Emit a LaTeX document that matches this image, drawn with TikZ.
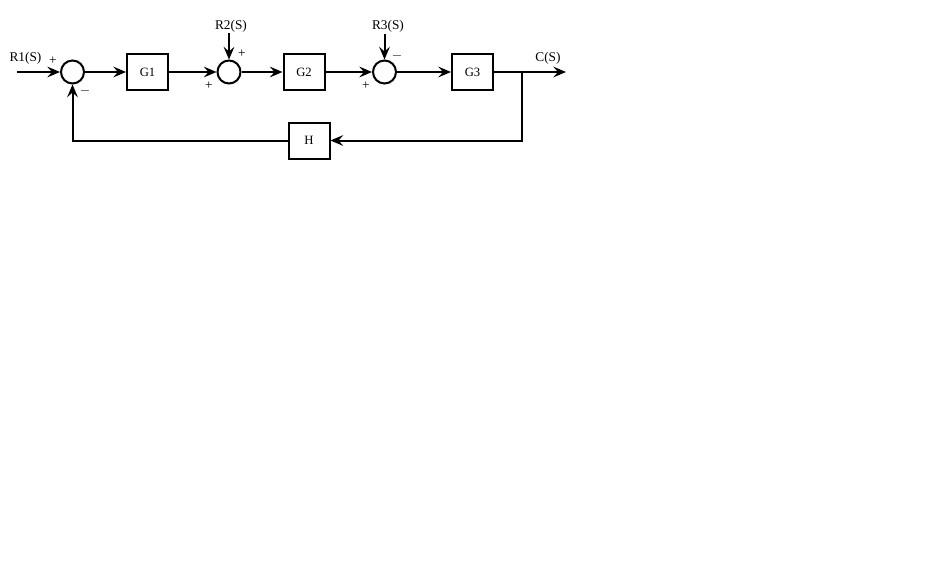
\documentclass[tikz,border=0pt]{standalone}
\usepackage{fontspec}
\setmainfont{Liberation Serif}
\usetikzlibrary{arrows.meta}
\begin{document}
\begin{tikzpicture}[x=0.75pt,y=-0.75pt,
  line width=1.5pt,
  arr/.style={-{Stealth[length=9.5pt,width=8pt,inset=3.5pt]}},
  blk/.style={draw,minimum width=41*0.75pt,minimum height=36*0.75pt,inner sep=0pt,font=\fontsize{9.5}{10}\selectfont},
  sumc/.style={draw,circle,minimum size=23*0.75pt,inner sep=0pt},
  lbl/.style={inner sep=0pt,font=\fontsize{10}{10}\selectfont},
  sgn/.style={inner sep=0pt,font=\fontsize{10}{10}\selectfont}]
\useasboundingbox (0,0) rectangle (934,571);
\coordinate (in) at (17,72);
\node[sumc] (s1) at (72.5,72) {};
\node[blk] (g1) at (147.5,72) {G1};
\node[sumc] (s2) at (229,72) {};
\node[blk] (g2) at (304,72) {G2};
\node[sumc] (s3) at (384.5,72) {};
\node[blk] (g3) at (472.5,72) {G3};
\node[blk] (h) at (309,140.5) {H};
\coordinate (br) at (522,72);
\coordinate (out) at (566,72);
\coordinate (fbr) at (522,140.5);
\coordinate (fbl) at (72.5,140.5);
\coordinate (r2) at (229,33);
\coordinate (r3) at (384.5,34);
\draw[arr] (in) -- (s1);
\draw[arr] (s1) -- (g1);
\draw[arr] (g1) -- (s2);
\draw[arr] (s2) -- (g2);
\draw[arr] (g2) -- (s3);
\draw[arr] (s3) -- (g3);
\draw (g3) -- (br);
\draw[arr] (br) -- (out);
\draw[arr] (br) -- (fbr) -- (h);
\draw[arr] (h) -- (fbl) -- (s1);
\draw[arr] (r2) -- (s2);
\draw[arr] (r3) -- (s3);
\node[lbl] (lr1) at (25.5,58) {R1(S)};
\node[lbl] (lr2) at (231,26) {R2(S)};
\node[lbl] (lr3) at (388,26) {R3(S)};
\node[lbl] (lc) at (548,58) {C(S)};
\node[sgn] (p1) at (53,61) {+};
\node[sgn] (m1) at (85,91) {$-$};
\node[sgn] (p2a) at (242,54) {+};
\node[sgn] (p2b) at (209,86) {+};
\node[sgn] (m3) at (397,56) {$-$};
\node[sgn] (p3) at (366,86) {+};
\end{tikzpicture}
\end{document}
